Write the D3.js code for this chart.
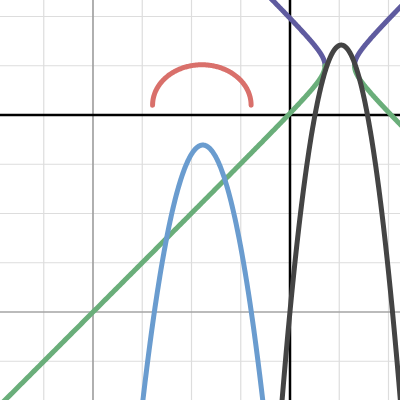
<!DOCTYPE html><html><head><script src="https://d3js.org/d3.v7.min.js"></script>
<style>body{margin:0}svg{display:block}</style></head><body><script>
const U = 49.25;
const xDomain = [-290/U, 110/U];
const yDomain = [-285/U, 115/U];
const minorTicks = d3.range(-6, 4, 1);
const majorTicks = [-4, 0];
// curve parameters
const blackParab = {h: 1.04, k: 1.42, a: 5};
const blueParab = {h: -1.77, k: -0.61, a: 3.5};
const redArc = {h: -1.79, k: 0.2, rx: 1, ry: 0.82};
const hyp = {h: 1.01, k: 1.0, c2: 0.09};

const W = 400, H = 400;
const svg = d3.select("body").append("svg").attr("width", W).attr("height", H);
svg.append("rect").attr("width", W).attr("height", H).attr("fill", "#fff");
const x = d3.scaleLinear().domain(xDomain).range([0, W]);
const y = d3.scaleLinear().domain(yDomain).range([H, 0]);

minorTicks.forEach(t => {
  svg.append("line").attr("x1", x(t)).attr("x2", x(t)).attr("y1", 0).attr("y2", H).attr("stroke", "#ddd").attr("stroke-width", 1.2);
  svg.append("line").attr("y1", y(t)).attr("y2", y(t)).attr("x1", 0).attr("x2", W).attr("stroke", "#ddd").attr("stroke-width", 1.2);
});
majorTicks.filter(t => t !== 0).forEach(t => {
  svg.append("line").attr("x1", x(t)).attr("x2", x(t)).attr("y1", 0).attr("y2", H).attr("stroke", "#888").attr("stroke-width", 1.2);
  svg.append("line").attr("y1", y(t)).attr("y2", y(t)).attr("x1", 0).attr("x2", W).attr("stroke", "#888").attr("stroke-width", 1.2);
});
svg.append("line").attr("x1", x(0)).attr("x2", x(0)).attr("y1", 0).attr("y2", H).attr("stroke", "#000").attr("stroke-width", 2.5);
svg.append("line").attr("y1", y(0)).attr("y2", y(0)).attr("x1", 0).attr("x2", W).attr("stroke", "#000").attr("stroke-width", 2.5);

const line = d3.line().x(d => x(d[0])).y(d => y(d[1]));
function plot(pts, color) {
  svg.append("path").attr("d", line(pts)).attr("fill", "none").attr("stroke", color)
    .attr("stroke-width", 5).attr("stroke-linecap", "round").attr("stroke-linejoin", "round");
}
function sample(a, b, f, n = 400) { return d3.range(n + 1).map(i => { const t = a + (b - a) * i / n; return [t, f(t)]; }); }
function sampleB(a, b, sgn) { // hyperbola branch with dense sampling near vertical tangent
  return d3.range(401).map(i => { const u = i / 400; const t = sgn < 0 ? b - (b - a) * u * u : a + (b - a) * u * u; return t; })
    .sort((p, q) => p - q);
}
const d0 = Math.sqrt(hyp.c2);
const hf = (t, s) => hyp.k + s * Math.sqrt(Math.max(0, (t - hyp.h) ** 2 - hyp.c2));
[1, -1].forEach(s => {
  const col = s > 0 ? "#5f5b9f" : "#6aae7a";
  plot(sampleB(-7, hyp.h - d0, -1).map(t => [t, hf(t, s)]), col);
  plot(sampleB(hyp.h + d0, 4, 1).map(t => [t, hf(t, s)]), col);
});
plot(sample(-3.5, 0.2, t => blueParab.k - blueParab.a * (t - blueParab.h) ** 2), "#6a9ccf");
const r = redArc;
plot(d3.range(0, 181).map(i => { const a = Math.PI * i / 180; return [r.h + r.rx * Math.cos(a), r.k + r.ry * Math.sin(a)]; }), "#d9706b");
plot(sample(-0.4, 2.6, t => blackParab.k - blackParab.a * (t - blackParab.h) ** 2), "#444");
</script></body></html>
